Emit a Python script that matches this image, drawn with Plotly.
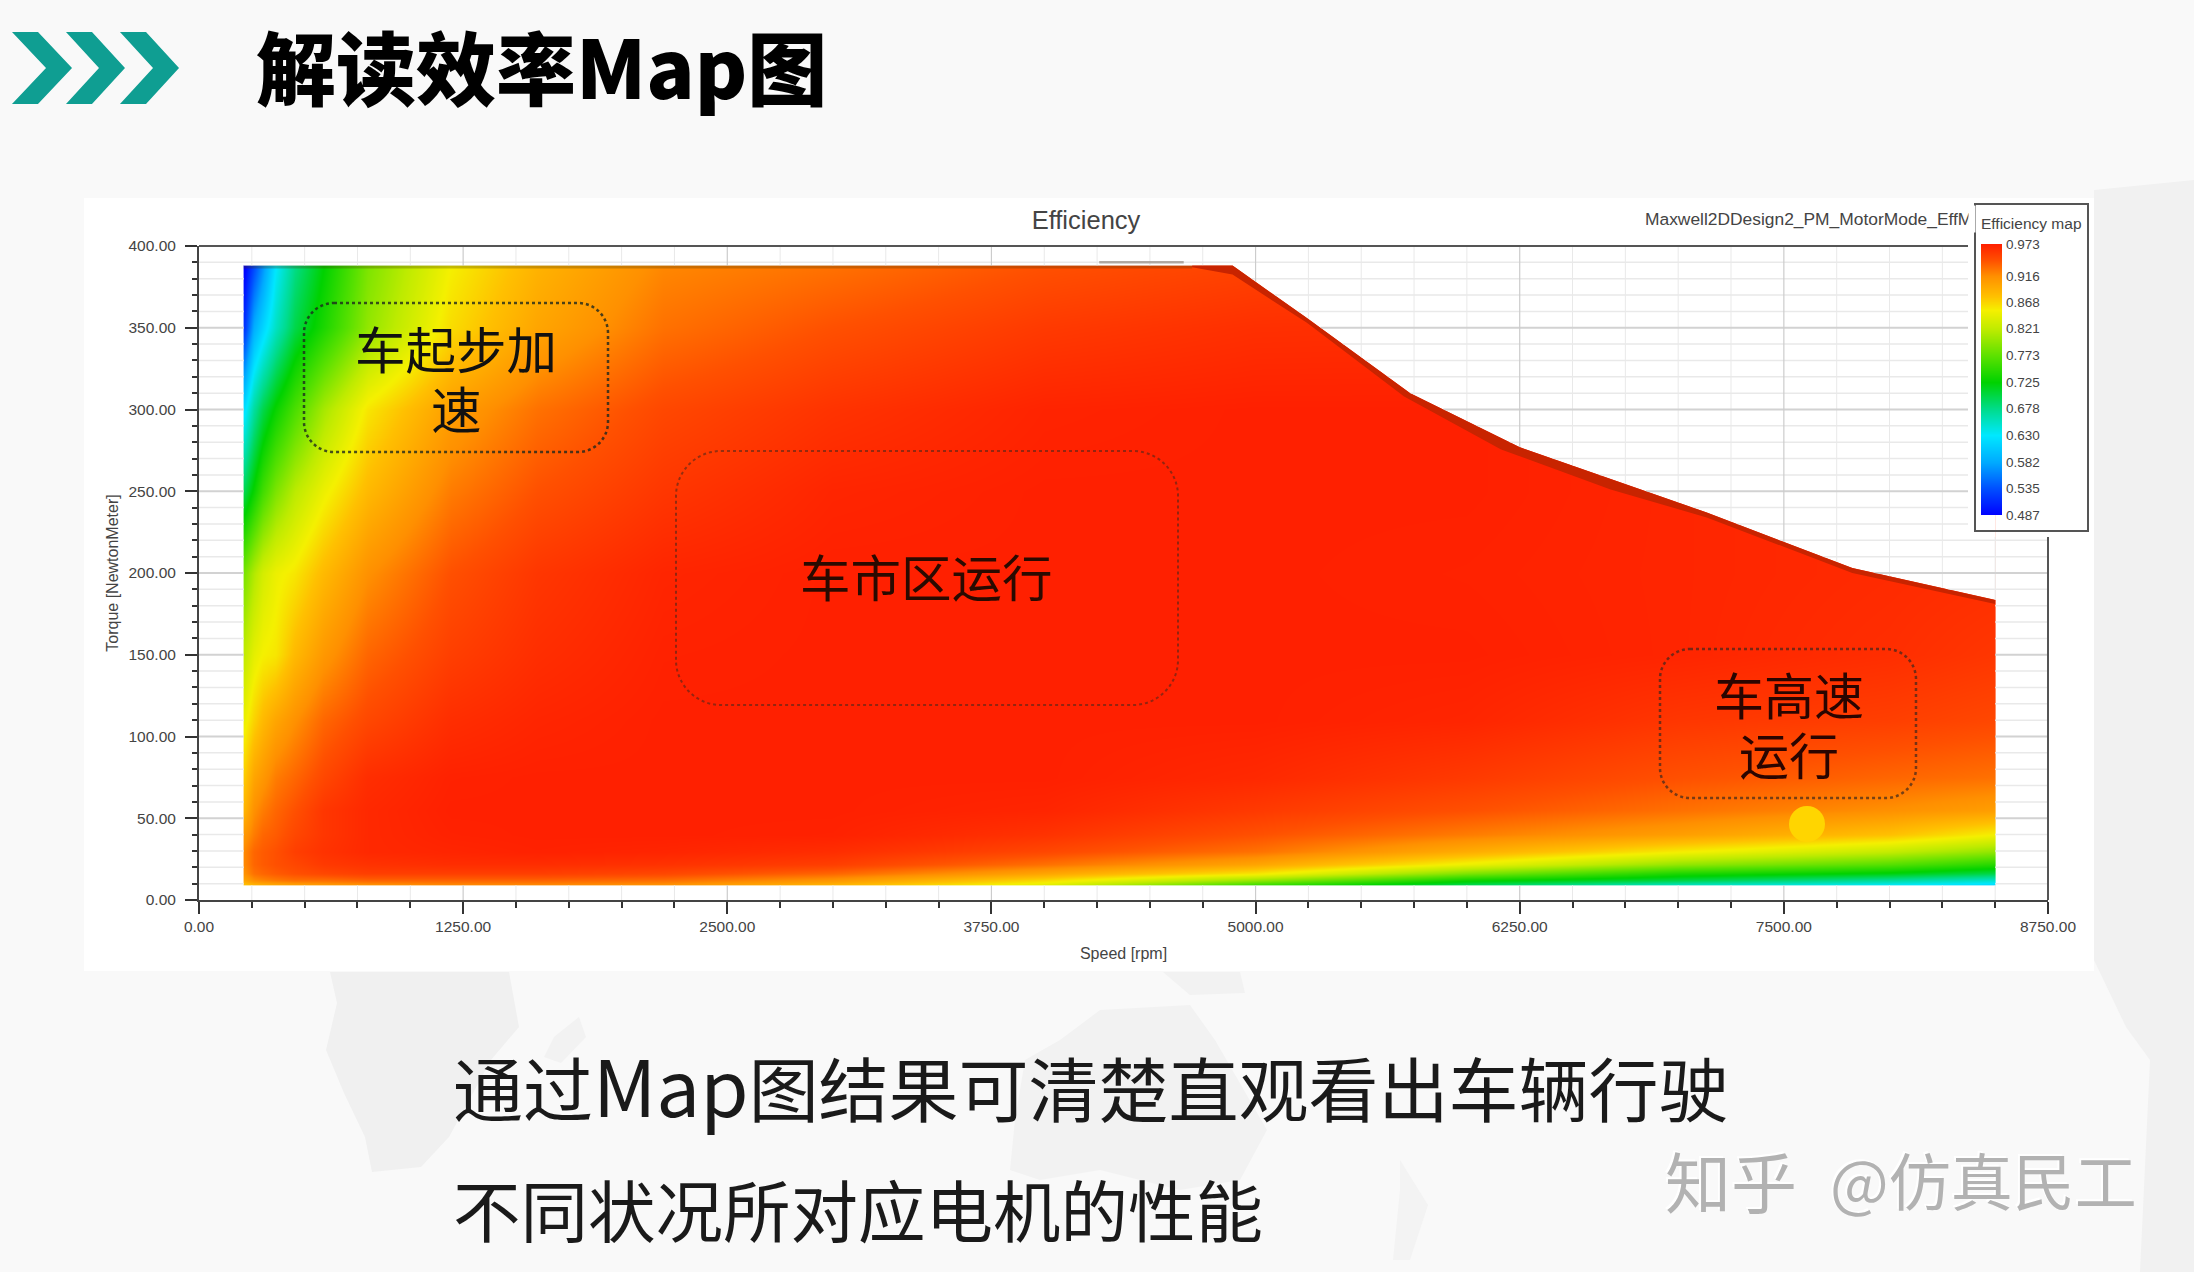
import numpy as np
import plotly.graph_objects as go

# Efficiency map table: speed columns [rpm], torque rows [N*m], one row of efficiency per torque
speed_rpm = [212, 260, 300, 362, 450, 590, 800, 1190, 1600, 2200, 3000, 4000, 5000, 6000, 7000, 8000, 8500]
torque_nm = [9, 12, 16, 22, 30, 40, 55, 75, 110, 150, 200, 250, 300, 350, 388]

eff_t009 = [.880, .890, .895, .900, .905, .910, .915, .920, .920, .915, .890, .845, .760, .700, .660, .635, .620]
eff_t012 = [.900, .915, .920, .925, .930, .930, .935, .935, .935, .930, .910, .865, .800, .730, .700, .670, .650]
eff_t016 = [.915, .930, .935, .940, .945, .950, .955, .955, .955, .950, .935, .900, .860, .790, .740, .720, .700]
eff_t022 = [.920, .935, .940, .945, .950, .958, .962, .965, .965, .962, .955, .930, .900, .850, .800, .770, .745]
eff_t030 = [.920, .935, .940, .945, .955, .962, .968, .970, .972, .970, .965, .950, .930, .895, .857, .825, .800]
eff_t040 = [.910, .925, .935, .940, .950, .960, .968, .972, .973, .973, .972, .962, .945, .925, .905, .880, .855]
eff_t055 = [.890, .915, .925, .935, .945, .960, .968, .973, .973, .973, .973, .970, .958, .945, .930, .915, .905]
eff_t075 = [.875, .900, .910, .925, .935, .950, .965, .972, .973, .973, .973, .973, .968, .958, .945, .935, .930]
eff_t110 = [.850, .870, .885, .900, .915, .935, .950, .965, .970, .973, .973, .973, .973, .970, .960, .955, .950]
eff_t150 = [.825, .845, .855, .860, .885, .910, .935, .955, .965, .972, .973, .973, .973, .973, .970, .965, .960]
eff_t200 = [.790, .815, .835, .850, .860, .885, .915, .945, .960, .970, .973, .973, .973, .972, .970, .967, .965]
eff_t250 = [.700, .730, .760, .790, .820, .850, .885, .925, .945, .960, .970, .973, .973, .973, .970, .967, .965]
eff_t300 = [.625, .670, .700, .730, .765, .810, .860, .905, .930, .950, .962, .971, .973, .973, .970, .967, .965]
eff_t350 = [.520, .585, .615, .655, .700, .740, .800, .865, .900, .930, .945, .958, .964, .965, .965, .965, .965]
eff_t388 = [.487, .530, .570, .630, .680, .725, .790, .855, .890, .920, .930, .945, .953, .960, .960, .960, .960]
eff_rows = [eff_t009, eff_t012, eff_t016, eff_t022, eff_t030, eff_t040, eff_t055, eff_t075,
            eff_t110, eff_t150, eff_t200, eff_t250, eff_t300, eff_t350, eff_t388]

# Peak torque envelope and the darker strip that runs just beneath it
envelope_speed = [212, 4700, 4891, 5243, 5732, 6248, 7135, 7824, 8500]
envelope_torque = [388, 388, 388, 356, 310, 277, 237, 203, 183.5]
strip_speed = [4700, 4891, 5243, 5703, 6162, 6680, 7135, 7824, 8500]
strip_torque = [387, 382.5, 353, 308, 275.6, 251, 234, 200, 181]
# Short grey ridge sitting on the flat top just before the corner
ridge_speed = [4260, 4660]
ridge_torque = [390, 390]

# Legend scale
scale_ticks = [0.973, 0.916, 0.868, 0.821, 0.773, 0.725, 0.678, 0.630, 0.582, 0.535, 0.487]
scale_stops = [
    (0.487, "#0000ff"), (0.535, "#0050ff"), (0.582, "#00aaff"), (0.630, "#00e8ff"),
    (0.678, "#00dc8c"), (0.725, "#00d200"), (0.773, "#5ae100"), (0.821, "#beeb00"),
    (0.855, "#f5f000"), (0.880, "#ffc000"), (0.916, "#ff9000"), (0.945, "#ff5000"),
    (0.973, "#ff2000"),
]

# Page geometry in pixels
W, H = 2194, 1272
L, R, T, B = 199, 2048, 246, 900
X_MAX, Y_MAX = 8750, 400
LEGEND_BOTTOM_PX, PLOT_CUT_PX = 537, 1968


def px(x):
    return x / W


def py(y):
    return 1 - y / H


def poly_path(points):
    return "M " + " L ".join(f"{px(x):.5f} {py(y):.5f}" for x, y in points) + " Z"


def round_rect_path(x0, y0, x1, y1, r):
    c = 0.45 * r
    nodes = [
        ("M", (x0 + r, y0)), ("L", (x1 - r, y0)),
        ("C", (x1 - c, y0), (x1, y0 + c), (x1, y0 + r)), ("L", (x1, y1 - r)),
        ("C", (x1, y1 - c), (x1 - c, y1), (x1 - r, y1)), ("L", (x0 + r, y1)),
        ("C", (x0 + c, y1), (x0, y1 - c), (x0, y1 - r)), ("L", (x0, y0 + r)),
        ("C", (x0, y0 + c), (x0 + c, y0), (x0 + r, y0)),
    ]
    parts = []
    for cmd, *pts in nodes:
        parts.append(cmd + " " + " ".join(f"{px(a):.5f} {py(b):.5f}" for a, b in pts))
    return " ".join(parts) + " Z"


def page_shape(path, fill, layer="below"):
    return dict(type="path", xref="paper", yref="paper", path=path, fillcolor=fill,
                line=dict(width=0), layer=layer)


def page_line(x0, y0, x1, y1, color="#555555", width=2):
    return dict(type="line", xref="paper", yref="paper", x0=px(x0), y0=py(y0), x1=px(x1), y1=py(y1),
                line=dict(color=color, width=width), layer="above")


def label(text, x, y, size, color="#111111", anchor="center", family="Noto Sans CJK SC", **extra):
    return dict(text=text, x=px(x), y=py(y), xref="paper", yref="paper", showarrow=False,
                xanchor=anchor, yanchor="middle", align=anchor,
                font=dict(family=family, size=size, color=color, **extra))


# The edge rows and columns are repeated so the heat surface stops at the table limits
z = np.array(eff_rows)
z = np.hstack([z[:, :1], z, z[:, -1:]])
z = np.vstack([z[:1], z, z[-1:]])
hx = [speed_rpm[0], speed_rpm[0] + 2] + speed_rpm[1:-1] + [speed_rpm[-1] - 2, speed_rpm[-1]]
hy = [torque_nm[0], torque_nm[0] + 0.3] + torque_nm[1:-1] + [torque_nm[-1] - 0.3, torque_nm[-1]]

zmin, zmax = scale_ticks[-1], scale_ticks[0]
colorscale = [[(v - zmin) / (zmax - zmin), c] for v, c in scale_stops]

fig = go.Figure()

fig.add_trace(go.Heatmap(
    x=hx, y=hy, z=z, zmin=zmin, zmax=zmax, zsmooth="best", colorscale=colorscale,
    hoverinfo="skip", showscale=False,
))

# White area above the envelope
fig.add_trace(go.Scatter(
    x=envelope_speed + [8503, 8503, 212], y=envelope_torque + [183.5, Y_MAX, Y_MAX],
    mode="lines", line=dict(width=0), fill="toself", fillcolor="white",
    hoverinfo="skip", showlegend=False,
))

# Grid lines run only outside the efficiency surface and stop short of the legend box
speed_left, speed_right = speed_rpm[0], speed_rpm[-1]
low_torque = torque_nm[0]
cut_speed = (PLOT_CUT_PX - L) / (R - L) * X_MAX
cut_torque = (B - LEGEND_BOTTOM_PX) / (B - T) * Y_MAX


def h_grid(levels):
    xs, ys = [], []
    for t in levels:
        end = cut_speed if t > cut_torque else X_MAX
        if t >= max(envelope_torque) or t < low_torque:
            xs += [0, end, None]
            ys += [t, t, None]
        else:
            edge = speed_right if t < envelope_torque[-1] else float(
                np.interp(t, envelope_torque[:1:-1], envelope_speed[:1:-1]))
            xs += [0, speed_left, None, edge, end, None]
            ys += [t, t, None, t, t, None]
    return xs, ys


def v_grid(levels):
    xs, ys = [], []
    for s in levels:
        end = cut_torque if s > cut_speed else Y_MAX
        if s < speed_left or s > speed_right:
            xs += [s, s, None]
            ys += [0, end, None]
        else:
            top = float(np.interp(s, envelope_speed, envelope_torque))
            xs += [s, s, None, s, s, None]
            ys += [0, low_torque, None, top, end, None]
    return xs, ys


minor_t = [t for t in range(10, Y_MAX, 10) if t % 50]
major_t = list(range(50, Y_MAX, 50))
minor_s = [s for s in range(250, X_MAX, 250) if s % 1250]
major_s = list(range(1250, X_MAX, 1250))
for (gx, gy), color, width in [
    (h_grid(minor_t), "#e9e9e9", 1.5), (v_grid(minor_s), "#e9e9e9", 1),
    (h_grid(major_t), "#d2d2d2", 2), (v_grid(major_s), "#cccccc", 1.2),
]:
    fig.add_trace(go.Scatter(x=gx, y=gy, mode="lines", line=dict(color=color, width=width),
                             hoverinfo="skip", showlegend=False))

# Darker strip under the sloping part of the envelope
fig.add_trace(go.Scatter(
    x=envelope_speed[1:] + strip_speed[::-1], y=envelope_torque[1:] + strip_torque[::-1],
    mode="lines", line=dict(width=0), fill="toself", fillcolor="#c82400",
    hoverinfo="skip", showlegend=False,
))
# Shaded rim along the flat top of the surface, and the ridge above it
fig.add_trace(go.Scatter(
    x=envelope_speed[:2], y=[387.2, 387.2], mode="lines",
    line=dict(color="rgba(70,50,0,0.28)", width=3), hoverinfo="skip", showlegend=False,
))
fig.add_trace(go.Scatter(
    x=ridge_speed, y=ridge_torque, mode="lines",
    line=dict(color="rgba(150,140,130,0.7)", width=2.5), hoverinfo="skip", showlegend=False,
))

# Colour key drawn on its own small axes inside the legend box
key_values = [v for v, _ in scale_stops]
fig.add_trace(go.Heatmap(
    x=[0, 1], y=key_values, z=[[v, v] for v in key_values], zmin=zmin, zmax=zmax, zsmooth="best",
    colorscale=colorscale, showscale=False, hoverinfo="skip", xaxis="x2", yaxis="y2",
))

axis_font = dict(family="Liberation Sans", size=15.5, color="#444444")
axis_title_font = dict(family="Liberation Sans", size=16, color="#444444")
shapes = [
    # faint world map behind the slide
    page_shape(poly_path([(330, 972), (509, 972), (519, 1027), (491, 1060), (449, 1137), (421, 1167),
                          (372, 1172), (365, 1137), (344, 1093), (326, 1050), (337, 1003)]), "#f0f0f0"),
    page_shape(poly_path([(579, 1017), (586, 1037), (561, 1063), (544, 1057), (554, 1037)]), "#f2f2f2"),
    page_shape(poly_path([(1010, 1170), (1015, 1120), (1025, 1060), (1060, 1040), (1100, 1010), (1190, 1005),
                          (1215, 1040), (1267, 1130), (1240, 1180), (1180, 1190), (1100, 1170), (1040, 1180)]),
               "#f2f2f2"),
    page_shape(poly_path([(1163, 972), (1240, 972), (1245, 993), (1190, 995)]), "#f2f2f2"),
    page_shape(poly_path([(1393, 1260), (1400, 1190), (1400, 1160), (1428, 1205), (1410, 1260)]), "#f3f3f3"),
    page_shape(poly_path([(2094, 190), (2194, 180), (2194, 1272), (2140, 1272), (2150, 1060), (2126, 1027),
                          (2094, 960)]), "#f1f1f1"),
    # white panel holding the chart
    page_shape(poly_path([(84, 198), (2094, 198), (2094, 971), (84, 971)]), "white"),
    # section chevrons
    page_shape(poly_path([(12, 32), (38, 32), (72, 68), (38, 104), (12, 104), (46, 68)]), "#0f9e92", "above"),
    page_shape(poly_path([(66, 32), (92, 32), (125, 68), (92, 104), (66, 104), (99, 68)]), "#0f9e92", "above"),
    page_shape(poly_path([(120, 32), (146, 32), (179, 68), (146, 104), (120, 104), (153, 68)]), "#0f9e92", "above"),
    # top and right plot borders, interrupted by the legend box
    page_line(L, T, PLOT_CUT_PX, T),
    page_line(R, LEGEND_BOTTOM_PX, R, B),
    # legend frame
    dict(type="rect", xref="paper", yref="paper", x0=px(1975), x1=px(2088), y0=py(204), y1=py(531),
         line=dict(color="#555555", width=2), layer="above"),
    # operating-region outlines
    dict(type="path", xref="paper", yref="paper", path=round_rect_path(304, 303, 608, 452, 30),
         line=dict(color="rgba(30,40,30,0.8)", width=2.5, dash="dot"), layer="above"),
    dict(type="path", xref="paper", yref="paper", path=round_rect_path(676, 451, 1178, 705, 45),
         line=dict(color="rgba(60,40,30,0.55)", width=2, dash="dot"), layer="above"),
    dict(type="path", xref="paper", yref="paper", path=round_rect_path(1660, 649, 1916, 798, 30),
         line=dict(color="rgba(60,40,30,0.7)", width=2.5, dash="dot"), layer="above"),
    # cursor highlight
    dict(type="circle", xref="paper", yref="paper", x0=px(1789), x1=px(1825), y0=py(806), y1=py(842),
         fillcolor="#ffd500", line=dict(width=0), layer="above"),
]

annotations = [
    label("解读效率Map图", 254, 64, 80, "#000000", "left", weight=900),
    label("车起步加", 456, 347, 50.5),
    label("速", 456, 407, 50.5),
    label("车市区运行", 926, 575, 50.5, "#2a0a00"),
    label("车高速", 1789, 693, 50, "#2a0500"),
    label("运行", 1789, 753, 50, "#2a0500"),
    label('通过<span style="font-size:78px">Map</span>图结果可清楚直观看出车辆行驶', 451, 1083, 70, "#1a1a1a", "left"),
    label("不同状况所对应电机的性能", 451, 1207, 67.5, "#1a1a1a", "left"),
    label("知乎", 1663, 1179, 66, "#b2b2b2", "left", shadow="-2px -2px 0px #ffffff"),
    label("@仿真民工", 1828, 1179, 62, "#b2b2b2", "left", shadow="-2px -2px 0px #ffffff"),
    label("Maxwell2DDesign2_PM_MotorMode_EffM", 1643, 219, 17.4, "#444444", "left", family="Liberation Sans"),
    dict(text=" ", x=px(1968), y=py(219), xref="paper", yref="paper", showarrow=False, xanchor="left",
         yanchor="middle", width=6, height=26, bgcolor="white", borderpad=0),
    label("Efficiency map", 2032, 223, 15.5, "#444444", family="Liberation Sans"),
]

fig.update_layout(
    width=W, height=H, autosize=False,
    margin=dict(l=0, r=0, t=0, b=0, pad=0, autoexpand=False),
    paper_bgcolor="#f9f9f9", plot_bgcolor="rgba(0,0,0,0)",
    title=dict(text="Efficiency", xref="container", yref="container", x=1086 / W, y=1 - 220 / H,
               xanchor="center", yanchor="middle",
               font=dict(family="Liberation Sans", size=25.5, color="#444444")),
    shapes=shapes, annotations=annotations,
    xaxis=dict(
        domain=[L / W, R / W], range=[0, X_MAX], tick0=0, dtick=1250, tickformat=".2f",
        showgrid=False, zeroline=False, showline=True, linecolor="#444444", linewidth=2,
        ticks="outside", ticklen=12, tickwidth=1.5, tickcolor="#333333", tickfont=axis_font,
        ticklabelstandoff=-1,
        minor=dict(dtick=250, ticks="outside", ticklen=6, tickwidth=1.5, tickcolor="#333333", showgrid=False),
        title=dict(text="Speed [rpm]", standoff=14, font=axis_title_font),
    ),
    yaxis=dict(
        domain=[1 - B / H, 1 - T / H], range=[0, Y_MAX], tick0=0, dtick=50, tickformat=".2f",
        showgrid=False, zeroline=False, showline=True, linecolor="#444444", linewidth=2,
        ticks="outside", ticklen=12, tickwidth=1.5, tickcolor="#333333", tickfont=axis_font,
        ticklabelstandoff=6,
        minor=dict(dtick=10, ticks="outside", ticklen=5, tickwidth=1.5, tickcolor="#333333", showgrid=False),
        title=dict(text="Torque [NewtonMeter]", standoff=6, font=axis_title_font),
    ),
    xaxis2=dict(domain=[1981 / W, 2002 / W], range=[0, 1], visible=False, anchor="y2"),
    yaxis2=dict(domain=[1 - 515 / H, 1 - 244 / H], range=[zmin, zmax], anchor="x2", side="right",
                tickmode="array", tickvals=scale_ticks, ticktext=[f"{v:.3f}" for v in scale_ticks],
                ticks="", showgrid=False, zeroline=False, showline=False, ticklabelstandoff=3,
                tickfont=dict(family="Liberation Sans", size=13.5, color="#444444")),
)

fig.write_html("out.html")
